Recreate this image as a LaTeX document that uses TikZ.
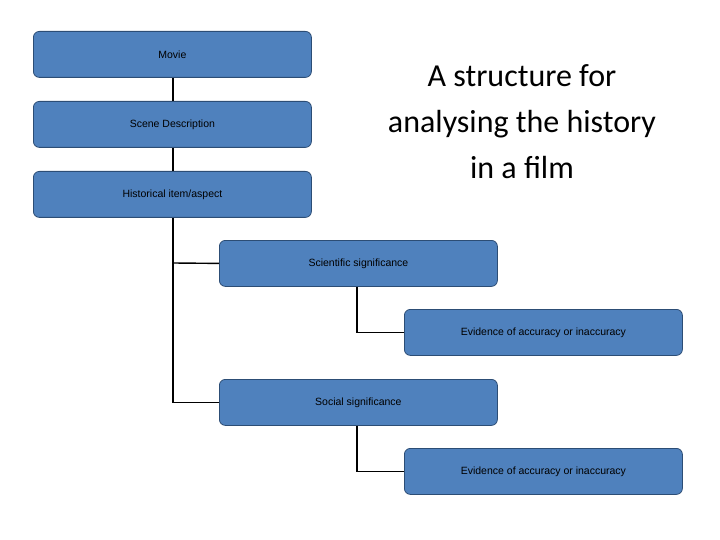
\documentclass[tikz,border=0pt]{standalone}
\usepackage{fontspec}
\setmainfont{Liberation Sans}
\newfontfamily\titlefont{Carlito}
\definecolor{boxfill}{HTML}{4F81BD}
\definecolor{boxline}{HTML}{2C4D75}
\begin{document}
\begin{tikzpicture}[x=1pt,y=-1pt,
  bx/.style={draw=boxline,fill=boxfill,rounded corners=6pt,line width=0.8pt,
    minimum width=278pt,minimum height=46pt,anchor=north west,inner sep=0pt,font=\fontsize{10.5}{12}\selectfont},
  con/.style={line width=1.4pt,black}]
\useasboundingbox (0,0) rectangle (720,540);
\node[bx] (movie) at (33,31) {Movie};
\node[bx] (scene) at (33,101) {Scene Description};
\node[bx] (hist) at (33,171) {Historical item/aspect};
\node[bx] (sci) at (219,240) {Scientific significance};
\node[bx] (ev1) at (404,309) {Evidence of accuracy or inaccuracy};
\node[bx] (soc) at (219,379) {Social significance};
\node[bx] (ev2) at (404,448) {Evidence of accuracy or inaccuracy};
\begin{scope}[on background layer/.try]
\end{scope}
\draw[con] (movie.south -| 173,0) -- (scene.north -| 173,0);
\draw[con] (scene.south -| 173,0) -- (hist.north -| 173,0);
\draw[con] (hist.south -| 173,0) |- (soc.west);
\draw[con] (173,263) -- (sci.west);
\draw[con] (sci.south -| 357,0) |- (ev1.west);
\draw[con] (soc.south -| 357,0) |- (ev2.west);
\node[font=\titlefont\fontsize{32}{46}\selectfont,align=center] (title) at (522,122)
  {A structure for\\analysing the history\\in a film};
\end{tikzpicture}
\end{document}
